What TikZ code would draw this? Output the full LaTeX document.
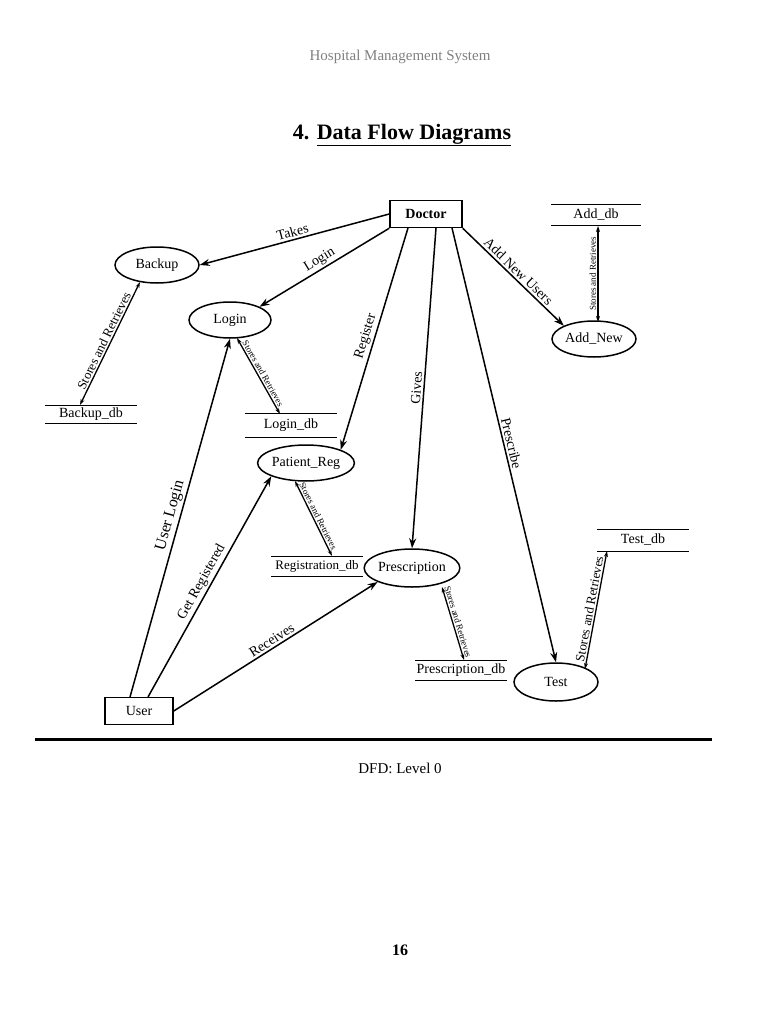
\documentclass[tikz,border=0pt]{standalone}
\usepackage{fontspec}
\setmainfont{Liberation Serif}
\usetikzlibrary{shapes.geometric,arrows.meta}
\begin{document}
\begin{tikzpicture}[x=1pt,y=-1pt,
  proc/.style={ellipse,draw,line width=1.5pt,minimum width=84pt,minimum height=36pt,inner sep=0pt,font=\fontsize{14}{14}\selectfont},
  ent/.style={rectangle,draw,line width=1.5pt,minimum height=27pt,inner sep=0pt,font=\fontsize{14}{14}\selectfont},
  store/.style={minimum width=91pt,minimum height=21pt,inner sep=0pt,font=\fontsize{14}{14}\selectfont,
    append after command={[line width=1.5pt](\tikzlastnode.north west) edge[draw] (\tikzlastnode.north east)
      (\tikzlastnode.south west) edge[draw] (\tikzlastnode.south east)}},
  flow/.style={-{Stealth[length=10pt,width=7pt]},line width=1.5pt},
  sr/.style={{Stealth[length=6pt,width=4pt]}-{Stealth[length=6pt,width=4pt]},line width=1.3pt},
  lab/.style={midway,sloped,above,inner sep=2pt,font=\fontsize{14}{14}\selectfont},
  slab/.style={midway,sloped,above,inner sep=1.5pt,font=\fontsize{9}{9}\selectfont}]
\useasboundingbox (0,0) rectangle (768,1024);
\node[text=gray,font=\fontsize{15}{15}\selectfont] (hdr) at (400,57) {Hospital Management System};
\node[font=\bfseries\fontsize{22}{22}\selectfont] (ttl) at (402,135) {4. \underline{Data Flow Diagrams}};
\node[ent,minimum width=72pt,font=\bfseries\fontsize{14}{14}\selectfont] (doc) at (426,214) {Doctor};
\node[ent,minimum width=68pt] (user) at (139,711) {User};
\node[proc] (backup) at (157,265) {Backup};
\node[proc,minimum width=82pt] (login) at (230,320) {Login};
\node[proc] (addnew) at (594,339) {Add\_New};
\node[proc] (preg) at (306,463) {Patient\_Reg};
\node[proc,minimum height=38pt] (presc) at (412,568) {Prescription};
\node[proc,minimum height=38pt] (test) at (556,682) {Test};
\node[store,minimum width=89pt] (adddb) at (596,215) {Add\_db};
\node[store,minimum height=18pt] (backdb) at (91,414) {Backup\_db};
\node[store,minimum height=23pt] (logdb) at (291,425) {Login\_db};
\node[store,minimum height=20pt,font=\fontsize{13}{13}\selectfont] (regdb) at (317,566) {Registration\_db};
\node[store,minimum height=20pt] (prdb) at (461,670) {Prescription\_db};
\node[store,minimum height=22pt] (testdb) at (643,540) {Test\_db};
% doctor flows
\draw[flow] (doc.west) -- (backup.east) node[lab] {Takes};
\draw[flow] (doc.south west) -- (login.north east) node[lab] {Login};
\draw[flow] (408,228) -- (preg.north east) node[lab] {Register};
\draw[flow] (436,228) -- (presc.north) node[lab] {Gives};
\draw[flow] (452,228) -- (test.north) node[lab] {Prescribe};
\draw[flow] (doc.south east) -- (addnew.north west) node[lab] {Add New Users};
% user flows
\draw[flow] (130,697) -- (login.south) node[lab,font=\fontsize{16}{16}\selectfont] {User Login};
\draw[flow] (148,697) -- (preg.south west) node[lab] {Get Registered};
\draw[flow] (user.east) -- (presc.south west) node[lab] {Receives};
% stores
\draw[sr] (80,405) -- (140,282) node[slab,font=\fontsize{13}{13}\selectfont] {Stores and Retrieves};
\draw[sr] (237,338) -- (280,414) node[slab] {Stores and Retrieves};
\draw[sr] (295,481) -- (332,556) node[slab] {Stores and Retrieves};
\draw[sr] (442,587) -- (464,660) node[slab] {Stores and Retrieves};
\draw[sr] (585,669) -- (607,551) node[slab,font=\fontsize{13}{13}\selectfont] {Stores and Retrieves};
\draw[sr] (598,322) -- (598,226) node[slab] {Stores and Retrieves};
\draw[line width=3pt] (35,739) -- (712,739);
\node[font=\fontsize{15}{15}\selectfont] (cap) at (400,768) {DFD: Level 0};
\node[font=\bfseries\fontsize{16}{16}\selectfont] (pg) at (400,950) {16};
\end{tikzpicture}
\end{document}
